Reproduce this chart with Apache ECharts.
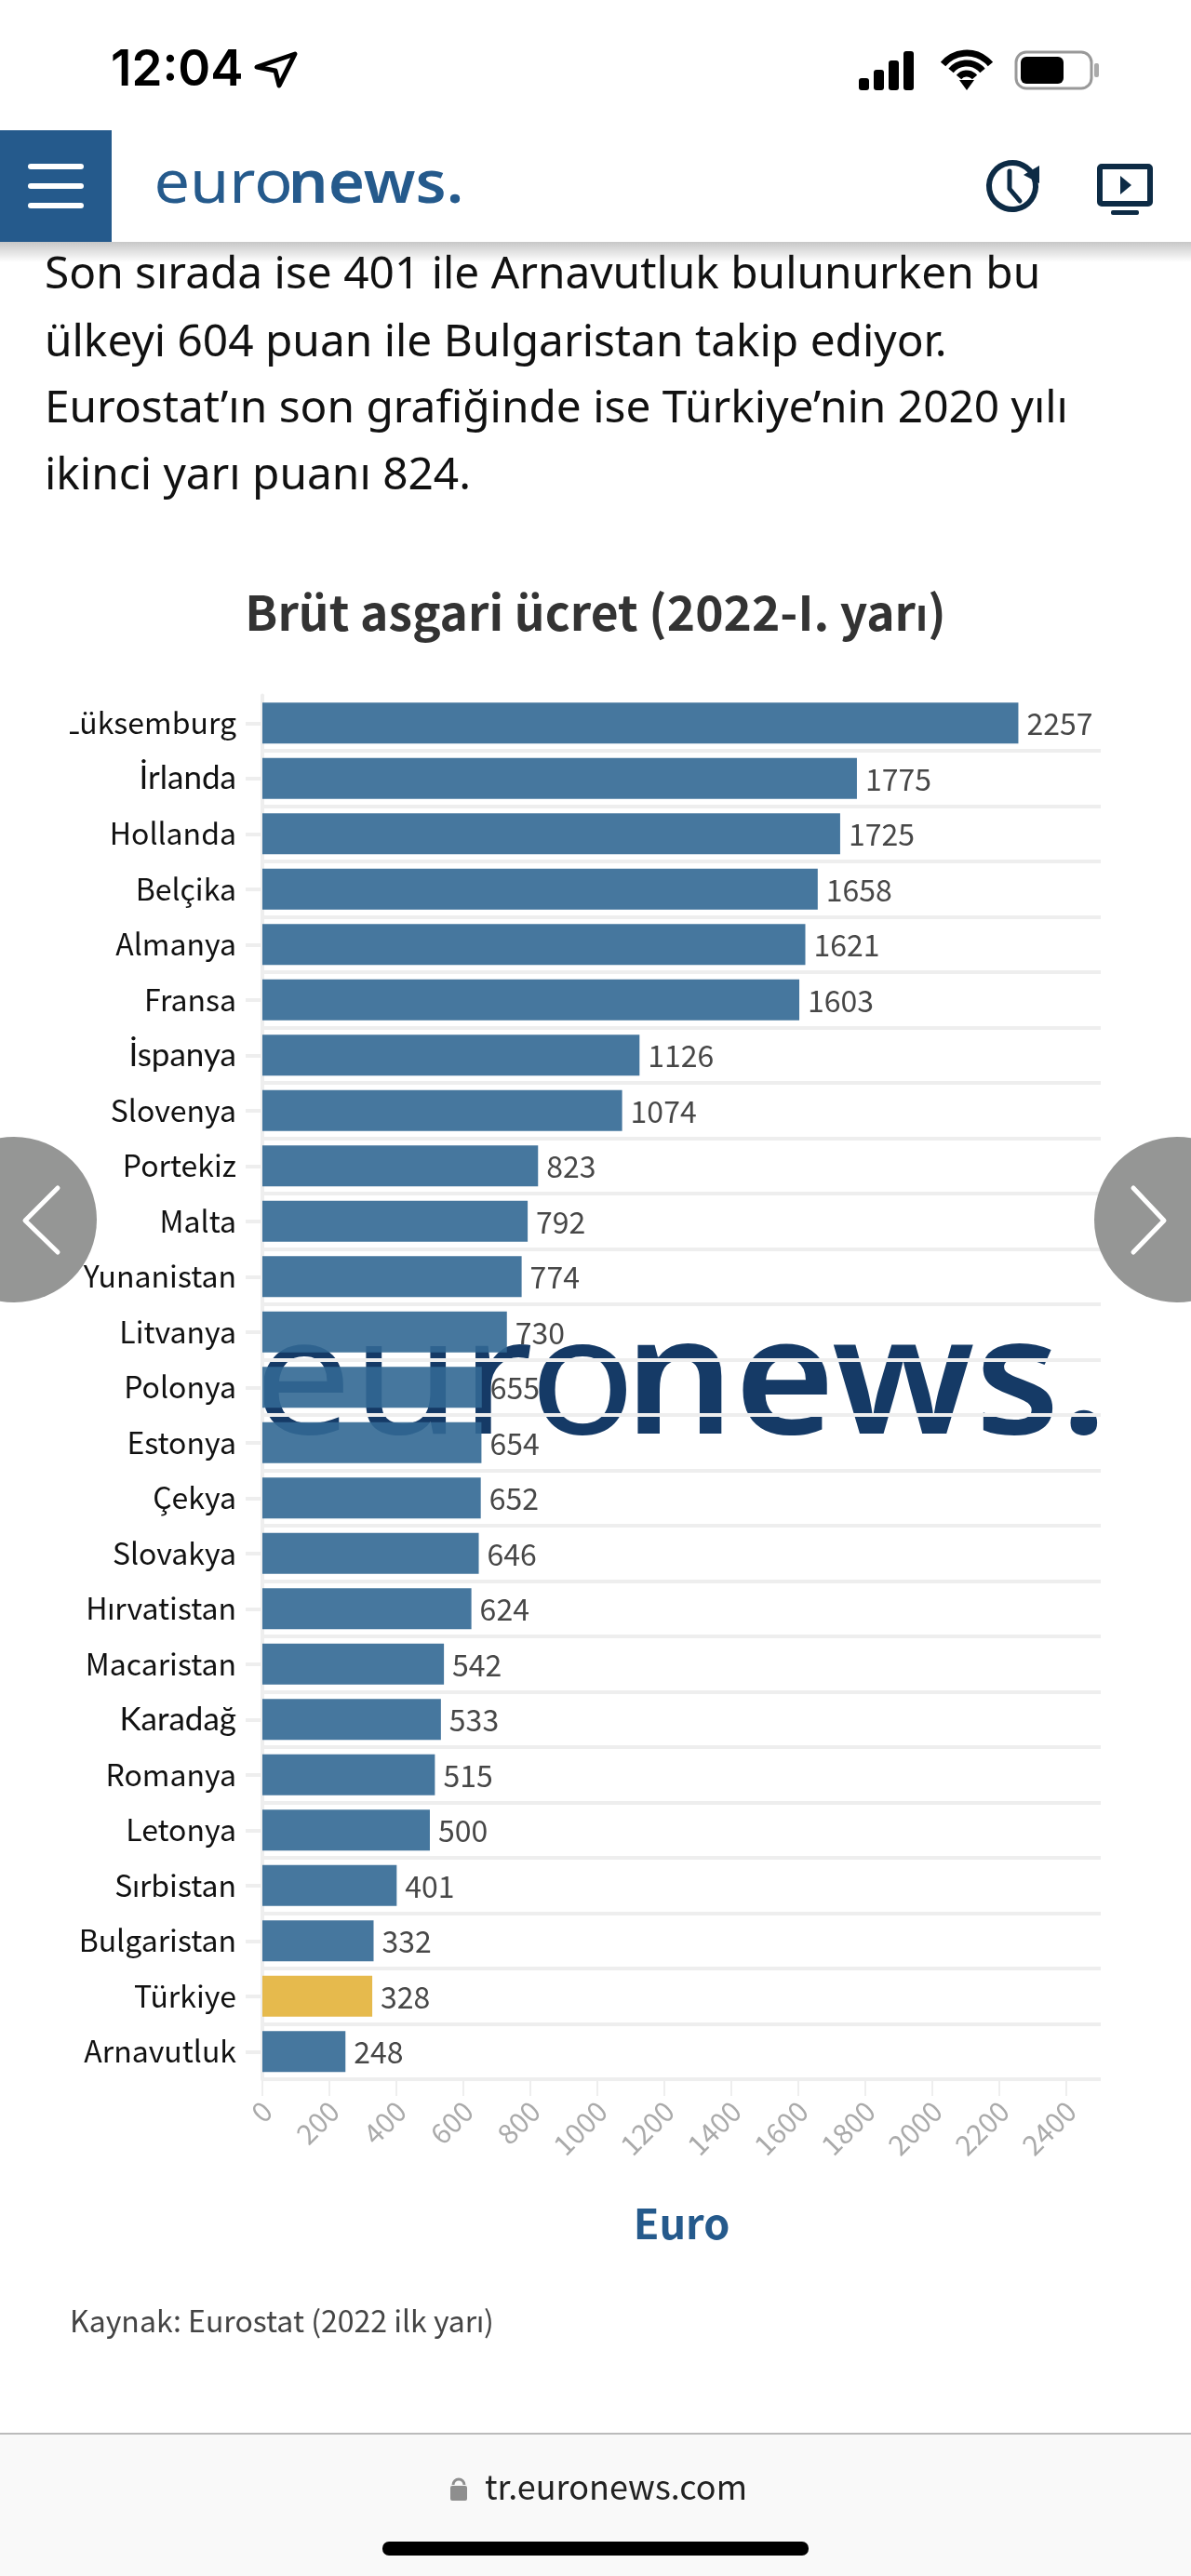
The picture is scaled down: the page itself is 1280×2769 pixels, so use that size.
<!DOCTYPE html>
<html>
<head>
<meta charset="utf-8">
<title>Brüt asgari ücret</title>
<script src="https://cdn.jsdelivr.net/npm/echarts@6/dist/echarts.min.js"></script>
<style>
html,body{margin:0;padding:0;background:#fff;}
#main{width:1280px;height:2769px;}
</style>
</head>
<body>
<div id="main"></div>
<script>
var countries = ['Lüksemburg','İrlanda','Hollanda','Belçika','Almanya','Fransa','İspanya','Slovenya','Portekiz','Malta','Yunanistan','Litvanya','Polonya','Estonya','Çekya','Slovakya','Hırvatistan','Macaristan','Karadağ','Romanya','Letonya','Sırbistan','Bulgaristan','Türkiye','Arnavutluk'];
var wages = [2257,1775,1725,1658,1621,1603,1126,1074,823,792,774,730,655,654,652,646,624,542,533,515,500,401,332,328,248];
var xTicks = [0,200,400,600,800,1000,1200,1400,1600,1800,2000,2200,2400];
var paragraph = ['Son sırada ise 401 ile Arnavutluk bulunurken bu','ülkeyi 604 puan ile Bulgaristan takip ediyor.','Eurostat’ın son grafiğinde ise Türkiye’nin 2020 yılı','ikinci yarı puanı 824.'];
var highlighted = 'Türkiye';

var chartFont = '"Noto Sans CJK SC","Lato"';
var bodyFont = '"Noto Sans"';
var barBlue = 'rgb(50,104,148)';

function label(x, y, text, size, color, extra){
	var st = {x:x, y:y, text:text, fontSize:size, fill:color, fontFamily:bodyFont, verticalAlign:'middle', align:'left'};
	for(var k in extra){ st[k] = extra[k]; }
	return {type:'text', z:20, style:st};
}
function box(x, y, w, h, color, r, z){
	return {type:'rect', z:z==null?20:z, shape:{x:x,y:y,width:w,height:h,r:r||0}, style:{fill:color}};
}
function stroke(points, color, width){
	return {type:'polyline', z:20, shape:{points:points}, style:{stroke:color,lineWidth:width,fill:null,lineCap:'round',lineJoin:'round'}};
}
// 台标：前半细体,后半粗体
function logo(x1, x2, y, size, color, z){
	return [
		{type:'text',z:z,x:x1,y:y,scaleX:1.078,style:{x:0,y:0,text:'euro',fontSize:size,fontFamily:bodyFont,fontWeight:400,fill:color,verticalAlign:'middle'}},
		{type:'text',z:z,x:x2,y:y,scaleX:1.059,style:{x:0,y:0,text:'news.',fontSize:size,fontFamily:bodyFont,fontWeight:600,fill:color,verticalAlign:'middle'}}
	];
}

var elements = [];

// 状态栏
elements.push(label(119,76,'12:04',53,'#000',{fontFamily:'Inter',fontWeight:600}));
elements.push({type:'polygon',z:20,shape:{points:[[317,58],[300,92],[296,76],[276,72]]},style:{fill:'#fff',stroke:'#000',lineWidth:5,lineJoin:'round'}});
elements.push(box(923,84,11,13,'#000',3),box(939,75,11,22,'#000',3),box(955,65,11,32,'#000',3),box(971,55,11,42,'#000',3));
[33,22,11].forEach(function(r){
	elements.push({type:'arc',z:20,shape:{cx:1039,cy:90,r:r,startAngle:-Math.PI*0.78,endAngle:-Math.PI*0.22},style:{stroke:'#000',lineWidth:7,fill:null}});
});
elements.push({type:'polygon',z:20,shape:{points:[[1031,86],[1047,86],[1039,97]]},style:{fill:'#000'}});
elements.push({type:'rect',z:20,shape:{x:1092,y:56,width:81,height:39,r:11},style:{fill:'#fff',stroke:'#999',lineWidth:3}});
elements.push(box(1097,61,46,29,'#000',6));
elements.push(box(1176,68,5,15,'#aaa',2));

// 顶部导航
elements.push({type:'rect',z:19,shape:{x:0,y:260,width:1280,height:22},style:{fill:new echarts.graphic.LinearGradient(0,0,0,1,[{offset:0,color:'rgba(0,0,0,0.22)'},{offset:1,color:'rgba(0,0,0,0)'}])}});
elements.push(box(0,140,120,120,'#255a8c'));
elements.push(box(30,176,60,6,'#fff',3),box(30,197,60,6,'#fff',3),box(30,218,60,6,'#fff',3));
elements = elements.concat(logo(165.4,309.8,200,63.5,'#255a8c',20));
elements.push({type:'arc',z:20,shape:{cx:1088,cy:200,r:25,startAngle:-Math.PI*0.3,endAngle:Math.PI*1.55+Math.PI*0.2},style:{stroke:'#0d2b45',lineWidth:6,fill:null}});
elements.push(stroke([[1085,184],[1085,203],[1096,216]],'#0d2b45',5));
elements.push({type:'polygon',z:20,shape:{points:[[1117,178],[1117,197],[1100,188]]},style:{fill:'#0d2b45'}});
elements.push({type:'rect',z:20,shape:{x:1182,y:179,width:54,height:40,r:2},style:{fill:'#fff',stroke:'#0d2b45',lineWidth:6}});
elements.push(box(1194,226,30,5,'#0d2b45',2));
elements.push({type:'polygon',z:20,shape:{points:[[1204,189],[1204,209],[1216,199]]},style:{fill:'#0d2b45'}});

// 正文
var paraY = [296,369,440,512];
paragraph.forEach(function(line,i){
	elements.push(label(48,paraY[i],line,47.8,'#111'));
});

// 水印
elements = elements.concat(logo(272,671,1491,175,'#153a66',-1));

// 左右翻页
elements.push({type:'circle',z:-2,shape:{cx:15,cy:1311,r:89},style:{fill:'#959695'}});
elements.push({type:'circle',z:20,shape:{cx:1265,cy:1311,r:89},style:{fill:'#959695'}});
elements.push(stroke([[62,1277],[27,1312],[62,1346]],'#fff',5));
elements.push(stroke([[1218,1277],[1251,1312],[1218,1346]],'#fff',5));

// 来源
elements.push(label(75,2495,'Kaynak: Eurostat (2022 ilk yarı)',32,'#444',{fontFamily:chartFont}));

// 盧森堡标签左边被截断
elements.push(box(60,758,26,27,'#fff',0,20),box(60,758,15,36,'#fff',0,20));

// 浏览器底栏
elements.push(box(0,2616,1280,153,'#f9f9f9',0,19));
elements.push(box(0,2615,1280,2,'#bbb'));
elements.push(box(484,2672,18,16,'#8e8e8e',2));
elements.push({type:'arc',z:20,shape:{cx:493,cy:2671,r:6,startAngle:Math.PI,endAngle:0},style:{stroke:'#8e8e8e',lineWidth:3,fill:null}});
elements.push(label(521,2673,'tr.euronews.com',36,'#222',{fontFamily:chartFont}));
elements.push(box(411,2732,458,15,'#000',7));

// 个别土耳其字母 CJK 字体里没有,换字体
var categoryData = countries.map(function(name){
	if(/[İğ]/.test(name)){
		return {value:name,textStyle:{fontFamily:'Lato',fontSize:35}};
	}
	return name;
});

var charts = echarts.init(document.getElementById('main'));
var option = {
	animation:false,
	backgroundColor:'#fff',
	textStyle:{fontFamily:chartFont},
	title:{
		text:'Brüt asgari ücret (2022-I. yarı)',
		left:'center',
		top:628,
		textStyle:{fontFamily:chartFont,fontSize:51.5,fontWeight:700,color:'#333'}
	},
	grid:{left:282,top:747.5,width:901,height:1487.5,containLabel:false},
	xAxis:{
		type:'value',
		min:0,
		max:2503,
		name:'Euro',
		nameLocation:'middle',
		nameGap:132,
		nameTextStyle:{fontFamily:chartFont,fontSize:45,fontWeight:700,color:'#255a8c'},
		axisLine:{show:false},
		axisTick:{show:true,length:18,customValues:xTicks,lineStyle:{color:'#eee',width:2}},
		axisLabel:{customValues:xTicks,rotate:45,margin:24,verticalAlign:'top',lineHeight:14,fontSize:30,color:'#aaa',fontFamily:chartFont,formatter:function(v){return String(v);}},
		splitLine:{show:false}
	},
	yAxis:{
		type:'category',
		inverse:true,
		data:categoryData,
		axisLine:{show:true,lineStyle:{color:'#eee',width:4}},
		axisTick:{show:true,alignWithLabel:true,interval:0,length:18,lineStyle:{color:'#eee',width:4}},
		axisLabel:{interval:0,margin:28,padding:[4,0,0,0],fontSize:32,color:'#111',fontFamily:chartFont},
		splitLine:{show:true,interval:0,showMinLine:false,lineStyle:{color:'#eee',width:4}}
	},
	series:[{
		type:'bar',
		data:wages,
		barWidth:44,
		itemStyle:{
			opacity:0.9,
			color:function(p){ return p.name===highlighted ? '#e3b23a' : barBlue; }
		},
		label:{show:true,position:'right',distance:9,offset:[0,1],fontSize:32,color:'#333',fontFamily:chartFont}
	}],
	graphic:{elements:elements}
};
charts.setOption(option);
</script>
</body>
</html>
